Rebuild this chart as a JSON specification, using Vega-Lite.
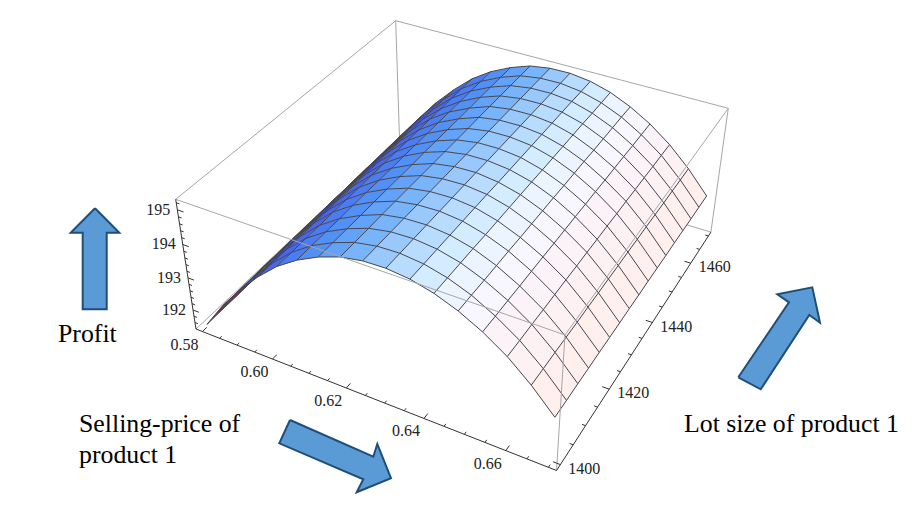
{"$schema":"https://vega.github.io/schema/vega-lite/v6.json","width":918,"height":531,"padding":0,"autosize":{"type":"none"},"background":"white","config":{"view":{"stroke":null}},
"datasets":{
"grid":[
{"price":0.58,"lot":1400,"profit":191.47},{"price":0.58,"lot":1404.4,"profit":191.48},{"price":0.58,"lot":1408.8,"profit":191.48},{"price":0.58,"lot":1413.1,"profit":191.49},{"price":0.58,"lot":1417.5,"profit":191.5},{"price":0.58,"lot":1421.9,"profit":191.5},{"price":0.58,"lot":1426.3,"profit":191.51},{"price":0.58,"lot":1430.6,"profit":191.52},{"price":0.58,"lot":1435,"profit":191.53},{"price":0.58,"lot":1439.4,"profit":191.53},{"price":0.58,"lot":1443.8,"profit":191.54},{"price":0.58,"lot":1448.1,"profit":191.55},{"price":0.58,"lot":1452.5,"profit":191.56},{"price":0.58,"lot":1456.9,"profit":191.56},{"price":0.58,"lot":1461.3,"profit":191.57},{"price":0.58,"lot":1465.6,"profit":191.58},{"price":0.58,"lot":1470,"profit":191.58},
{"price":0.5856,"lot":1400,"profit":192.3},{"price":0.5856,"lot":1404.4,"profit":192.3},{"price":0.5856,"lot":1408.8,"profit":192.31},{"price":0.5856,"lot":1413.1,"profit":192.32},{"price":0.5856,"lot":1417.5,"profit":192.32},{"price":0.5856,"lot":1421.9,"profit":192.33},{"price":0.5856,"lot":1426.3,"profit":192.33},{"price":0.5856,"lot":1430.6,"profit":192.34},{"price":0.5856,"lot":1435,"profit":192.35},{"price":0.5856,"lot":1439.4,"profit":192.35},{"price":0.5856,"lot":1443.8,"profit":192.36},{"price":0.5856,"lot":1448.1,"profit":192.37},{"price":0.5856,"lot":1452.5,"profit":192.37},{"price":0.5856,"lot":1456.9,"profit":192.38},{"price":0.5856,"lot":1461.3,"profit":192.39},{"price":0.5856,"lot":1465.6,"profit":192.39},{"price":0.5856,"lot":1470,"profit":192.4},
{"price":0.5913,"lot":1400,"profit":193.02},{"price":0.5913,"lot":1404.4,"profit":193.03},{"price":0.5913,"lot":1408.8,"profit":193.03},{"price":0.5913,"lot":1413.1,"profit":193.04},{"price":0.5913,"lot":1417.5,"profit":193.05},{"price":0.5913,"lot":1421.9,"profit":193.05},{"price":0.5913,"lot":1426.3,"profit":193.06},{"price":0.5913,"lot":1430.6,"profit":193.06},{"price":0.5913,"lot":1435,"profit":193.07},{"price":0.5913,"lot":1439.4,"profit":193.07},{"price":0.5913,"lot":1443.8,"profit":193.08},{"price":0.5913,"lot":1448.1,"profit":193.08},{"price":0.5913,"lot":1452.5,"profit":193.09},{"price":0.5913,"lot":1456.9,"profit":193.1},{"price":0.5913,"lot":1461.3,"profit":193.1},{"price":0.5913,"lot":1465.6,"profit":193.11},{"price":0.5913,"lot":1470,"profit":193.11},
{"price":0.5969,"lot":1400,"profit":193.64},{"price":0.5969,"lot":1404.4,"profit":193.64},{"price":0.5969,"lot":1408.8,"profit":193.65},{"price":0.5969,"lot":1413.1,"profit":193.65},{"price":0.5969,"lot":1417.5,"profit":193.66},{"price":0.5969,"lot":1421.9,"profit":193.66},{"price":0.5969,"lot":1426.3,"profit":193.66},{"price":0.5969,"lot":1430.6,"profit":193.67},{"price":0.5969,"lot":1435,"profit":193.67},{"price":0.5969,"lot":1439.4,"profit":193.68},{"price":0.5969,"lot":1443.8,"profit":193.68},{"price":0.5969,"lot":1448.1,"profit":193.69},{"price":0.5969,"lot":1452.5,"profit":193.69},{"price":0.5969,"lot":1456.9,"profit":193.7},{"price":0.5969,"lot":1461.3,"profit":193.7},{"price":0.5969,"lot":1465.6,"profit":193.71},{"price":0.5969,"lot":1470,"profit":193.71},
{"price":0.6025,"lot":1400,"profit":194.17},{"price":0.6025,"lot":1404.4,"profit":194.17},{"price":0.6025,"lot":1408.8,"profit":194.18},{"price":0.6025,"lot":1413.1,"profit":194.18},{"price":0.6025,"lot":1417.5,"profit":194.19},{"price":0.6025,"lot":1421.9,"profit":194.19},{"price":0.6025,"lot":1426.3,"profit":194.19},{"price":0.6025,"lot":1430.6,"profit":194.2},{"price":0.6025,"lot":1435,"profit":194.2},{"price":0.6025,"lot":1439.4,"profit":194.21},{"price":0.6025,"lot":1443.8,"profit":194.21},{"price":0.6025,"lot":1448.1,"profit":194.21},{"price":0.6025,"lot":1452.5,"profit":194.22},{"price":0.6025,"lot":1456.9,"profit":194.22},{"price":0.6025,"lot":1461.3,"profit":194.23},{"price":0.6025,"lot":1465.6,"profit":194.23},{"price":0.6025,"lot":1470,"profit":194.23},
{"price":0.6081,"lot":1400,"profit":194.57},{"price":0.6081,"lot":1404.4,"profit":194.58},{"price":0.6081,"lot":1408.8,"profit":194.58},{"price":0.6081,"lot":1413.1,"profit":194.58},{"price":0.6081,"lot":1417.5,"profit":194.59},{"price":0.6081,"lot":1421.9,"profit":194.59},{"price":0.6081,"lot":1426.3,"profit":194.59},{"price":0.6081,"lot":1430.6,"profit":194.59},{"price":0.6081,"lot":1435,"profit":194.6},{"price":0.6081,"lot":1439.4,"profit":194.6},{"price":0.6081,"lot":1443.8,"profit":194.6},{"price":0.6081,"lot":1448.1,"profit":194.61},{"price":0.6081,"lot":1452.5,"profit":194.61},{"price":0.6081,"lot":1456.9,"profit":194.61},{"price":0.6081,"lot":1461.3,"profit":194.62},{"price":0.6081,"lot":1465.6,"profit":194.62},{"price":0.6081,"lot":1470,"profit":194.62},
{"price":0.6138,"lot":1400,"profit":194.88},{"price":0.6138,"lot":1404.4,"profit":194.88},{"price":0.6138,"lot":1408.8,"profit":194.88},{"price":0.6138,"lot":1413.1,"profit":194.88},{"price":0.6138,"lot":1417.5,"profit":194.89},{"price":0.6138,"lot":1421.9,"profit":194.89},{"price":0.6138,"lot":1426.3,"profit":194.89},{"price":0.6138,"lot":1430.6,"profit":194.89},{"price":0.6138,"lot":1435,"profit":194.9},{"price":0.6138,"lot":1439.4,"profit":194.9},{"price":0.6138,"lot":1443.8,"profit":194.9},{"price":0.6138,"lot":1448.1,"profit":194.9},{"price":0.6138,"lot":1452.5,"profit":194.9},{"price":0.6138,"lot":1456.9,"profit":194.91},{"price":0.6138,"lot":1461.3,"profit":194.91},{"price":0.6138,"lot":1465.6,"profit":194.91},{"price":0.6138,"lot":1470,"profit":194.91},
{"price":0.6194,"lot":1400,"profit":195.1},{"price":0.6194,"lot":1404.4,"profit":195.1},{"price":0.6194,"lot":1408.8,"profit":195.1},{"price":0.6194,"lot":1413.1,"profit":195.11},{"price":0.6194,"lot":1417.5,"profit":195.11},{"price":0.6194,"lot":1421.9,"profit":195.11},{"price":0.6194,"lot":1426.3,"profit":195.11},{"price":0.6194,"lot":1430.6,"profit":195.11},{"price":0.6194,"lot":1435,"profit":195.11},{"price":0.6194,"lot":1439.4,"profit":195.11},{"price":0.6194,"lot":1443.8,"profit":195.11},{"price":0.6194,"lot":1448.1,"profit":195.12},{"price":0.6194,"lot":1452.5,"profit":195.12},{"price":0.6194,"lot":1456.9,"profit":195.12},{"price":0.6194,"lot":1461.3,"profit":195.12},{"price":0.6194,"lot":1465.6,"profit":195.12},{"price":0.6194,"lot":1470,"profit":195.12},
{"price":0.625,"lot":1400,"profit":195.21},{"price":0.625,"lot":1404.4,"profit":195.21},{"price":0.625,"lot":1408.8,"profit":195.21},{"price":0.625,"lot":1413.1,"profit":195.21},{"price":0.625,"lot":1417.5,"profit":195.21},{"price":0.625,"lot":1421.9,"profit":195.21},{"price":0.625,"lot":1426.3,"profit":195.21},{"price":0.625,"lot":1430.6,"profit":195.21},{"price":0.625,"lot":1435,"profit":195.21},{"price":0.625,"lot":1439.4,"profit":195.21},{"price":0.625,"lot":1443.8,"profit":195.21},{"price":0.625,"lot":1448.1,"profit":195.21},{"price":0.625,"lot":1452.5,"profit":195.21},{"price":0.625,"lot":1456.9,"profit":195.21},{"price":0.625,"lot":1461.3,"profit":195.21},{"price":0.625,"lot":1465.6,"profit":195.21},{"price":0.625,"lot":1470,"profit":195.21},
{"price":0.6306,"lot":1400,"profit":195.23},{"price":0.6306,"lot":1404.4,"profit":195.23},{"price":0.6306,"lot":1408.8,"profit":195.23},{"price":0.6306,"lot":1413.1,"profit":195.23},{"price":0.6306,"lot":1417.5,"profit":195.23},{"price":0.6306,"lot":1421.9,"profit":195.23},{"price":0.6306,"lot":1426.3,"profit":195.23},{"price":0.6306,"lot":1430.6,"profit":195.23},{"price":0.6306,"lot":1435,"profit":195.22},{"price":0.6306,"lot":1439.4,"profit":195.22},{"price":0.6306,"lot":1443.8,"profit":195.22},{"price":0.6306,"lot":1448.1,"profit":195.22},{"price":0.6306,"lot":1452.5,"profit":195.22},{"price":0.6306,"lot":1456.9,"profit":195.22},{"price":0.6306,"lot":1461.3,"profit":195.22},{"price":0.6306,"lot":1465.6,"profit":195.22},{"price":0.6306,"lot":1470,"profit":195.22},
{"price":0.6363,"lot":1400,"profit":195.16},{"price":0.6363,"lot":1404.4,"profit":195.16},{"price":0.6363,"lot":1408.8,"profit":195.16},{"price":0.6363,"lot":1413.1,"profit":195.16},{"price":0.6363,"lot":1417.5,"profit":195.16},{"price":0.6363,"lot":1421.9,"profit":195.16},{"price":0.6363,"lot":1426.3,"profit":195.16},{"price":0.6363,"lot":1430.6,"profit":195.15},{"price":0.6363,"lot":1435,"profit":195.15},{"price":0.6363,"lot":1439.4,"profit":195.15},{"price":0.6363,"lot":1443.8,"profit":195.15},{"price":0.6363,"lot":1448.1,"profit":195.15},{"price":0.6363,"lot":1452.5,"profit":195.15},{"price":0.6363,"lot":1456.9,"profit":195.15},{"price":0.6363,"lot":1461.3,"profit":195.15},{"price":0.6363,"lot":1465.6,"profit":195.14},{"price":0.6363,"lot":1470,"profit":195.14},
{"price":0.6419,"lot":1400,"profit":195},{"price":0.6419,"lot":1404.4,"profit":195},{"price":0.6419,"lot":1408.8,"profit":195},{"price":0.6419,"lot":1413.1,"profit":195},{"price":0.6419,"lot":1417.5,"profit":194.99},{"price":0.6419,"lot":1421.9,"profit":194.99},{"price":0.6419,"lot":1426.3,"profit":194.99},{"price":0.6419,"lot":1430.6,"profit":194.99},{"price":0.6419,"lot":1435,"profit":194.99},{"price":0.6419,"lot":1439.4,"profit":194.98},{"price":0.6419,"lot":1443.8,"profit":194.98},{"price":0.6419,"lot":1448.1,"profit":194.98},{"price":0.6419,"lot":1452.5,"profit":194.98},{"price":0.6419,"lot":1456.9,"profit":194.98},{"price":0.6419,"lot":1461.3,"profit":194.97},{"price":0.6419,"lot":1465.6,"profit":194.97},{"price":0.6419,"lot":1470,"profit":194.97},
{"price":0.6475,"lot":1400,"profit":194.75},{"price":0.6475,"lot":1404.4,"profit":194.75},{"price":0.6475,"lot":1408.8,"profit":194.74},{"price":0.6475,"lot":1413.1,"profit":194.74},{"price":0.6475,"lot":1417.5,"profit":194.74},{"price":0.6475,"lot":1421.9,"profit":194.73},{"price":0.6475,"lot":1426.3,"profit":194.73},{"price":0.6475,"lot":1430.6,"profit":194.73},{"price":0.6475,"lot":1435,"profit":194.73},{"price":0.6475,"lot":1439.4,"profit":194.72},{"price":0.6475,"lot":1443.8,"profit":194.72},{"price":0.6475,"lot":1448.1,"profit":194.72},{"price":0.6475,"lot":1452.5,"profit":194.71},{"price":0.6475,"lot":1456.9,"profit":194.71},{"price":0.6475,"lot":1461.3,"profit":194.71},{"price":0.6475,"lot":1465.6,"profit":194.71},{"price":0.6475,"lot":1470,"profit":194.7},
{"price":0.6531,"lot":1400,"profit":194.41},{"price":0.6531,"lot":1404.4,"profit":194.4},{"price":0.6531,"lot":1408.8,"profit":194.4},{"price":0.6531,"lot":1413.1,"profit":194.39},{"price":0.6531,"lot":1417.5,"profit":194.39},{"price":0.6531,"lot":1421.9,"profit":194.39},{"price":0.6531,"lot":1426.3,"profit":194.38},{"price":0.6531,"lot":1430.6,"profit":194.38},{"price":0.6531,"lot":1435,"profit":194.38},{"price":0.6531,"lot":1439.4,"profit":194.37},{"price":0.6531,"lot":1443.8,"profit":194.37},{"price":0.6531,"lot":1448.1,"profit":194.36},{"price":0.6531,"lot":1452.5,"profit":194.36},{"price":0.6531,"lot":1456.9,"profit":194.36},{"price":0.6531,"lot":1461.3,"profit":194.35},{"price":0.6531,"lot":1465.6,"profit":194.35},{"price":0.6531,"lot":1470,"profit":194.35},
{"price":0.6588,"lot":1400,"profit":193.97},{"price":0.6588,"lot":1404.4,"profit":193.96},{"price":0.6588,"lot":1408.8,"profit":193.96},{"price":0.6588,"lot":1413.1,"profit":193.95},{"price":0.6588,"lot":1417.5,"profit":193.95},{"price":0.6588,"lot":1421.9,"profit":193.95},{"price":0.6588,"lot":1426.3,"profit":193.94},{"price":0.6588,"lot":1430.6,"profit":193.94},{"price":0.6588,"lot":1435,"profit":193.93},{"price":0.6588,"lot":1439.4,"profit":193.93},{"price":0.6588,"lot":1443.8,"profit":193.92},{"price":0.6588,"lot":1448.1,"profit":193.92},{"price":0.6588,"lot":1452.5,"profit":193.91},{"price":0.6588,"lot":1456.9,"profit":193.91},{"price":0.6588,"lot":1461.3,"profit":193.9},{"price":0.6588,"lot":1465.6,"profit":193.9},{"price":0.6588,"lot":1470,"profit":193.89},
{"price":0.6644,"lot":1400,"profit":193.41},{"price":0.6644,"lot":1404.4,"profit":193.4},{"price":0.6644,"lot":1408.8,"profit":193.4},{"price":0.6644,"lot":1413.1,"profit":193.39},{"price":0.6644,"lot":1417.5,"profit":193.38},{"price":0.6644,"lot":1421.9,"profit":193.38},{"price":0.6644,"lot":1426.3,"profit":193.37},{"price":0.6644,"lot":1430.6,"profit":193.37},{"price":0.6644,"lot":1435,"profit":193.36},{"price":0.6644,"lot":1439.4,"profit":193.36},{"price":0.6644,"lot":1443.8,"profit":193.35},{"price":0.6644,"lot":1448.1,"profit":193.35},{"price":0.6644,"lot":1452.5,"profit":193.34},{"price":0.6644,"lot":1456.9,"profit":193.33},{"price":0.6644,"lot":1461.3,"profit":193.33},{"price":0.6644,"lot":1465.6,"profit":193.32},{"price":0.6644,"lot":1470,"profit":193.32},
{"price":0.67,"lot":1400,"profit":192.74},{"price":0.67,"lot":1404.4,"profit":192.73},{"price":0.67,"lot":1408.8,"profit":192.73},{"price":0.67,"lot":1413.1,"profit":192.72},{"price":0.67,"lot":1417.5,"profit":192.72},{"price":0.67,"lot":1421.9,"profit":192.71},{"price":0.67,"lot":1426.3,"profit":192.7},{"price":0.67,"lot":1430.6,"profit":192.7},{"price":0.67,"lot":1435,"profit":192.69},{"price":0.67,"lot":1439.4,"profit":192.69},{"price":0.67,"lot":1443.8,"profit":192.68},{"price":0.67,"lot":1448.1,"profit":192.67},{"price":0.67,"lot":1452.5,"profit":192.67},{"price":0.67,"lot":1456.9,"profit":192.66},{"price":0.67,"lot":1461.3,"profit":192.65},{"price":0.67,"lot":1465.6,"profit":192.65},{"price":0.67,"lot":1470,"profit":192.64}
],
"box":[
{"part":"back","a":0,"b":0,"c":1,"a2":0,"b2":1,"c2":1},{"part":"back","a":0,"b":1,"c":1,"a2":1,"b2":1,"c2":1},{"part":"back","a":0,"b":1,"c":1,"a2":0,"b2":1,"c2":0},{"part":"back","a":0,"b":0,"c":0,"a2":0,"b2":1,"c2":0},{"part":"back","a":0,"b":1,"c":0,"a2":1,"b2":1,"c2":0},{"part":"back","a":1,"b":1,"c":1,"a2":1,"b2":1,"c2":0},
{"part":"front","a":0,"b":0,"c":1,"a2":1,"b2":0,"c2":1},{"part":"front","a":1,"b":0,"c":1,"a2":1,"b2":1,"c2":1},{"part":"front","a":1,"b":0,"c":1,"a2":1,"b2":0,"c2":0},
{"part":"axis","a":0,"b":0,"c":0,"a2":0,"b2":0,"c2":1},{"part":"axis","a":0,"b":0,"c":0,"a2":1,"b2":0,"c2":0},{"part":"axis","a":1,"b":0,"c":0,"a2":1,"b2":1,"c2":0}
],
"ticks":[
{"axis":"price","value":0.58,"major":true},{"axis":"price","value":0.585,"major":false},{"axis":"price","value":0.59,"major":false},{"axis":"price","value":0.595,"major":false},{"axis":"price","value":0.6,"major":true},{"axis":"price","value":0.605,"major":false},{"axis":"price","value":0.61,"major":false},{"axis":"price","value":0.615,"major":false},{"axis":"price","value":0.62,"major":true},{"axis":"price","value":0.625,"major":false},{"axis":"price","value":0.63,"major":false},{"axis":"price","value":0.635,"major":false},{"axis":"price","value":0.64,"major":true},{"axis":"price","value":0.645,"major":false},{"axis":"price","value":0.65,"major":false},{"axis":"price","value":0.655,"major":false},{"axis":"price","value":0.66,"major":true},{"axis":"price","value":0.665,"major":false},{"axis":"price","value":0.67,"major":false},
{"axis":"lot","value":1400,"major":true},{"axis":"lot","value":1405,"major":false},{"axis":"lot","value":1410,"major":false},{"axis":"lot","value":1415,"major":false},{"axis":"lot","value":1420,"major":true},{"axis":"lot","value":1425,"major":false},{"axis":"lot","value":1430,"major":false},{"axis":"lot","value":1435,"major":false},{"axis":"lot","value":1440,"major":true},{"axis":"lot","value":1445,"major":false},{"axis":"lot","value":1450,"major":false},{"axis":"lot","value":1455,"major":false},{"axis":"lot","value":1460,"major":true},{"axis":"lot","value":1465,"major":false},{"axis":"lot","value":1470,"major":false},
{"axis":"profit","value":191.6,"major":false},{"axis":"profit","value":191.8,"major":false},{"axis":"profit","value":192,"major":true},{"axis":"profit","value":192.2,"major":false},{"axis":"profit","value":192.4,"major":false},{"axis":"profit","value":192.6,"major":false},{"axis":"profit","value":192.8,"major":false},{"axis":"profit","value":193,"major":true},{"axis":"profit","value":193.2,"major":false},{"axis":"profit","value":193.4,"major":false},{"axis":"profit","value":193.6,"major":false},{"axis":"profit","value":193.8,"major":false},{"axis":"profit","value":194,"major":true},{"axis":"profit","value":194.2,"major":false},{"axis":"profit","value":194.4,"major":false},{"axis":"profit","value":194.6,"major":false},{"axis":"profit","value":194.8,"major":false},{"axis":"profit","value":195,"major":true},{"axis":"profit","value":195.2,"major":false}
],
"arrows":[
{"arrow":"profit","k":0,"X":95,"Y":208.3},{"arrow":"profit","k":1,"X":119.3,"Y":232.7},{"arrow":"profit","k":2,"X":106.7,"Y":232.7},{"arrow":"profit","k":3,"X":106.7,"Y":309.3},{"arrow":"profit","k":4,"X":82.7,"Y":309.3},{"arrow":"profit","k":5,"X":82.7,"Y":232.7},{"arrow":"profit","k":6,"X":70.7,"Y":232.7},{"arrow":"profit","k":7,"X":95,"Y":208.3},
{"arrow":"price","k":0,"X":290,"Y":420},{"arrow":"price","k":1,"X":373.3,"Y":456.7},{"arrow":"price","k":2,"X":377.3,"Y":444},{"arrow":"price","k":3,"X":391,"Y":478.3},{"arrow":"price","k":4,"X":356.7,"Y":492.3},{"arrow":"price","k":5,"X":363.3,"Y":479.3},{"arrow":"price","k":6,"X":279.3,"Y":443.3},{"arrow":"price","k":7,"X":290,"Y":420},
{"arrow":"lot","k":0,"X":738.3,"Y":377.3},{"arrow":"lot","k":1,"X":789,"Y":302.3},{"arrow":"lot","k":2,"X":777.3,"Y":294.3},{"arrow":"lot","k":3,"X":812.3,"Y":287.3},{"arrow":"lot","k":4,"X":820,"Y":322.7},{"arrow":"lot","k":5,"X":809.3,"Y":315},{"arrow":"lot","k":6,"X":760.7,"Y":389.3},{"arrow":"lot","k":7,"X":738.3,"Y":377.3}
],
"notes":[
{"note":"Profit","X":58,"Y":342},{"note":"Selling-price of","X":79,"Y":432},{"note":"product 1","X":79,"Y":463},{"note":"Lot size of product 1","X":684,"Y":432}
]},
"encoding":{
"x":{"field":"X","type":"quantitative","axis":null,"scale":{"domain":[0,918],"nice":false,"zero":false}},
"y":{"field":"Y","type":"quantitative","axis":null,"scale":{"domain":[531,0],"nice":false,"zero":false}}
},
"layer":[
{"data":{"name":"box"},
"transform":[
{"calculate":"1-0.12297*datum.a+0.23086*datum.b+0.07684*(1-datum.c)","as":"W"},
{"calculate":"(175.7+319.82*datum.a+311.35*datum.b+35.35*(1-datum.c))/datum.W","as":"X"},
{"calculate":"(199.3+94.5*datum.a-173.82*datum.b+155*(1-datum.c))/datum.W","as":"Y"},
{"calculate":"1-0.12297*datum.a2+0.23086*datum.b2+0.07684*(1-datum.c2)","as":"W2"},
{"calculate":"(175.7+319.82*datum.a2+311.35*datum.b2+35.35*(1-datum.c2))/datum.W2","as":"X2"},
{"calculate":"(199.3+94.5*datum.a2-173.82*datum.b2+155*(1-datum.c2))/datum.W2","as":"Y2"},
{"filter":"datum.part=='back'"}],
"mark":{"type":"rule","stroke":"#a6a6a6","strokeWidth":1},
"encoding":{"x2":{"field":"X2"},"y2":{"field":"Y2"}}},
{"data":{"name":"grid"},
"transform":[
{"calculate":"round((datum.price-0.58)/0.005625)","as":"i"},
{"calculate":"round((datum.lot-1400)/4.375)","as":"j"},
{"calculate":"0.02+0.96*(datum.price-0.58)/0.09","as":"u"},
{"calculate":"0.02+0.96*(datum.lot-1400)/70","as":"v"},
{"calculate":"(datum.profit-191.39)/3.906","as":"w"},
{"calculate":"1-0.12297*datum.u+0.23086*datum.v+0.07684*(1-datum.w)","as":"W"},
{"calculate":"(175.7+319.82*datum.u+311.35*datum.v+35.35*(1-datum.w))/datum.W","as":"X"},
{"calculate":"(199.3+94.5*datum.u-173.82*datum.v+155*(1-datum.w))/datum.W","as":"Y"}],
"layer":[
{"transform":[
{"calculate":"[0,1,2,3]","as":"k"},{"flatten":["k"]},
{"calculate":"datum.i-((datum.k==1||datum.k==2)?1:0)","as":"ci"},
{"calculate":"datum.j-(datum.k>=2?1:0)","as":"cj"},
{"filter":"datum.ci>=0&&datum.ci<16&&datum.cj>=0&&datum.cj<16"},
{"calculate":"datum.ci*100+datum.cj","as":"cell"},
{"calculate":"(datum.ci==0&&datum.cj<3)?-1:datum.ci","as":"shade"}],
"mark":{"type":"line","stroke":"transparent","strokeWidth":0},
"encoding":{
"detail":{"field":"cell","type":"nominal"},
"order":{"field":"k","type":"quantitative"},
"fill":{"field":"shade","type":"quantitative","legend":null,"scale":{"domain":[-1,0,1,2,3,4,5,6,7,8,9,10,11,12,13,15],"range":["#7a2a50","#3035b0","#3f48e0","#4458ea","#4668f0","#4a7cf4","#5290f6","#62a2f8","#78b4fa","#98c8fc","#b8dcfe","#d4ecff","#ecf5ff","#f8f6fe","#fbf3f8","#fff0ee"]}}}},
{"mark":{"type":"line","stroke":"#45454f","strokeWidth":1},
"encoding":{"detail":{"field":"i","type":"nominal"},"order":{"field":"j","type":"quantitative"}}},
{"mark":{"type":"line","stroke":"#45454f","strokeWidth":1},
"encoding":{"detail":{"field":"j","type":"nominal"},"order":{"field":"i","type":"quantitative"}}}
]},
{"data":{"name":"box"},
"transform":[
{"calculate":"1-0.12297*datum.a+0.23086*datum.b+0.07684*(1-datum.c)","as":"W"},
{"calculate":"(175.7+319.82*datum.a+311.35*datum.b+35.35*(1-datum.c))/datum.W","as":"X"},
{"calculate":"(199.3+94.5*datum.a-173.82*datum.b+155*(1-datum.c))/datum.W","as":"Y"},
{"calculate":"1-0.12297*datum.a2+0.23086*datum.b2+0.07684*(1-datum.c2)","as":"W2"},
{"calculate":"(175.7+319.82*datum.a2+311.35*datum.b2+35.35*(1-datum.c2))/datum.W2","as":"X2"},
{"calculate":"(199.3+94.5*datum.a2-173.82*datum.b2+155*(1-datum.c2))/datum.W2","as":"Y2"},
{"filter":"datum.part!='back'"}],
"mark":{"type":"rule","strokeWidth":1},
"encoding":{"x2":{"field":"X2"},"y2":{"field":"Y2"},
"stroke":{"field":"part","type":"nominal","legend":null,"scale":{"domain":["front","axis"],"range":["#a6a6a6","#333333"]}}}},
{"data":{"name":"ticks"},
"transform":[
{"calculate":"datum.axis=='price'?0.02+0.96*(datum.value-0.58)/0.09:(datum.axis=='lot'?1:0)","as":"a"},
{"calculate":"datum.axis=='lot'?0.02+0.96*(datum.value-1400)/70:0","as":"b"},
{"calculate":"datum.axis=='profit'?(datum.value-191.39)/3.906:0","as":"c"},
{"calculate":"datum.major?0.018:0.009","as":"len"},
{"calculate":"datum.axis=='lot'?1-datum.len:(datum.axis=='profit'?datum.len:datum.a)","as":"a2"},
{"calculate":"datum.axis=='price'?datum.len:datum.b","as":"b2"},
{"calculate":"1-0.12297*datum.a+0.23086*datum.b+0.07684*(1-datum.c)","as":"W"},
{"calculate":"(175.7+319.82*datum.a+311.35*datum.b+35.35*(1-datum.c))/datum.W","as":"X"},
{"calculate":"(199.3+94.5*datum.a-173.82*datum.b+155*(1-datum.c))/datum.W","as":"Y"},
{"calculate":"1-0.12297*datum.a2+0.23086*datum.b2+0.07684*(1-datum.c)","as":"W2"},
{"calculate":"(175.7+319.82*datum.a2+311.35*datum.b2+35.35*(1-datum.c))/datum.W2","as":"X2"},
{"calculate":"(199.3+94.5*datum.a2-173.82*datum.b2+155*(1-datum.c))/datum.W2","as":"Y2"},
{"calculate":"datum.axis=='price'?format(datum.value,'.2f'):format(datum.value,'d')","as":"label"}],
"layer":[
{"mark":{"type":"rule","stroke":"#333333","strokeWidth":1},"encoding":{"x2":{"field":"X2"},"y2":{"field":"Y2"}}},
{"transform":[{"filter":"datum.major&&datum.axis=='price'"}],"mark":{"type":"text","font":"Liberation Serif","fontSize":16,"fill":"#222222","align":"center","baseline":"middle","dx":-18,"dy":13},"encoding":{"text":{"field":"label","type":"nominal"}}},
{"transform":[{"filter":"datum.major&&datum.axis=='lot'"}],"mark":{"type":"text","font":"Liberation Serif","fontSize":16,"fill":"#222222","align":"center","baseline":"middle","dx":24,"dy":4},"encoding":{"text":{"field":"label","type":"nominal"}}},
{"transform":[{"filter":"datum.major&&datum.axis=='profit'"}],"mark":{"type":"text","font":"Liberation Serif","fontSize":16,"fill":"#222222","align":"center","baseline":"middle","dx":-19,"dy":0},"encoding":{"text":{"field":"label","type":"nominal"}}}
]},
{"data":{"name":"arrows"},
"mark":{"type":"line","fill":"#5b9bd5","stroke":"#1f4e79","strokeWidth":2,"strokeJoin":"miter"},
"encoding":{"detail":{"field":"arrow","type":"nominal"},"order":{"field":"k","type":"quantitative"}}},
{"data":{"name":"notes"},
"mark":{"type":"text","font":"Liberation Serif","fontSize":25.8,"fill":"#000000","align":"left","baseline":"alphabetic"},
"encoding":{"text":{"field":"note","type":"nominal"}}}
]}
